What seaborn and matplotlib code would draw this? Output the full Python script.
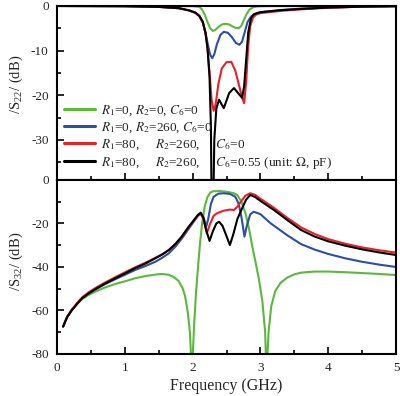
import matplotlib
matplotlib.use('Agg')
import matplotlib.pyplot as plt
from matplotlib import font_manager
from matplotlib.ticker import MultipleLocator
import pandas as pd
import seaborn as sns

sns.set_style("ticks")
# Times-like serif; fall back to matplotlib's bundled STIX if Liberation is missing
installed = {f.name for f in font_manager.fontManager.ttflist}
serif = 'Liberation Serif' if 'Liberation Serif' in installed else 'STIXGeneral'
plt.rcParams['font.family'] = [serif, 'DejaVu Serif']
plt.rcParams['mathtext.fontset'] = 'stix'
plt.rcParams['axes.unicode_minus'] = False

# ---- |S22| (top panel) ----
f22_green = [0.0, 1.0, 2.0, 2.10, 2.14, 2.18, 2.22, 2.26, 2.30, 2.34, 2.39, 2.44, 2.48, 2.53,
             2.58, 2.63, 2.68, 2.72, 2.76, 2.80, 2.84, 2.89, 2.95, 3.1, 5.0]
s22_green = [0, 0, -0.05, -0.2, -0.8, -2.0, -3.6, -5.0, -5.6, -5.3, -4.6, -4.1, -4.0, -4.1,
             -4.5, -4.9, -5.0, -4.4, -3.0, -1.7, -0.8, -0.3, -0.1, -0.03, 0]

f22_blue = [0.0, 1.0, 1.5, 1.8, 1.95, 2.04, 2.10, 2.15, 2.19, 2.23, 2.26, 2.29, 2.32, 2.36,
            2.41, 2.46, 2.52, 2.58, 2.64, 2.69, 2.73, 2.77, 2.81, 2.86, 2.92, 3.0, 3.3, 3.6,
            4.0, 4.5, 5.0]
s22_blue = [0, -0.05, -0.2, -0.5, -1.0, -1.5, -2.3, -3.8, -6.0, -9.0, -11.0, -11.7, -10.8, -8.5,
            -6.5, -5.8, -6.0, -7.0, -8.3, -8.7, -8.0, -5.8, -3.6, -2.4, -1.8, -1.4, -0.9, -0.6,
            -0.35, -0.15, -0.05]

f22_red = [0.0, 1.0, 1.5, 1.8, 1.95, 2.04, 2.10, 2.15, 2.19, 2.22, 2.25, 2.28, 2.31, 2.34,
           2.38, 2.43, 2.50, 2.57, 2.63, 2.68, 2.73, 2.76, 2.79, 2.82, 2.85, 2.89, 2.94, 3.0,
           3.3, 3.6, 4.0, 4.5, 5.0]
s22_red = [0, -0.05, -0.2, -0.5, -1.0, -1.5, -2.3, -3.6, -6.0, -9.5, -15, -21, -23.5, -22,
           -17.5, -14, -12.6, -12.5, -14.5, -17.5, -20.5, -21.8, -17, -9, -4.5, -2.6, -1.9, -1.6,
           -1.1, -0.75, -0.4, -0.15, -0.05]

f22_black = [0.0, 1.0, 1.5, 1.8, 1.95, 2.04, 2.10, 2.15, 2.19, 2.22, 2.25, 2.27, 2.29, 2.32,
             2.35, 2.39, 2.46, 2.54, 2.61, 2.67, 2.73, 2.76, 2.79, 2.82, 2.86, 2.90, 2.95, 3.0,
             3.3, 3.6, 4.0, 4.5, 5.0]
s22_black = [0, -0.05, -0.2, -0.5, -1.0, -1.5, -2.2, -3.5, -6.0, -9.5, -16, -27, -60, -30,
             -23, -21, -22.9, -19.5, -18.4, -19.5, -20.6, -18, -12, -6, -2.8, -1.9, -1.6, -1.4,
             -0.95, -0.65, -0.35, -0.15, -0.05]

# ---- |S32| (bottom panel) ----
f32_green = [0.09, 0.15, 0.22, 0.30, 0.37, 0.46, 0.56, 0.70, 0.86, 1.0, 1.15, 1.30, 1.45, 1.55,
             1.65, 1.72, 1.79, 1.85, 1.89, 1.93, 1.96, 1.99, 2.02, 2.05, 2.08, 2.11, 2.14, 2.18,
             2.22, 2.26, 2.30, 2.40, 2.50, 2.60, 2.66, 2.72, 2.78, 2.83, 2.88, 2.93, 2.98, 3.03,
             3.07, 3.09, 3.12, 3.16, 3.22, 3.30, 3.40, 3.50, 3.60, 3.80, 4.0, 4.25, 4.5, 4.75, 5.0]
s32_green = [-67.4, -63, -59.8, -56.9, -54.8, -53, -51.4, -49.5, -47.8, -46.6, -45.2, -44.2, -43.5,
             -43.2, -43.6, -44.6, -46.3, -49.5, -53.5, -61, -70, -90, -68, -52, -40, -29, -20,
             -12, -7.8, -5.8, -5.2, -5.1, -5.4, -6.0, -6.9, -10, -15.3, -22, -30.5, -38, -46, -56,
             -70, -90, -70, -58, -51, -47.2, -44.8, -43.4, -42.6, -42.1, -42.1, -42.4, -42.8,
             -43.2, -43.7]

f32_blue = [0.09, 0.15, 0.22, 0.30, 0.37, 0.46, 0.56, 0.70, 0.86, 1.0, 1.15, 1.30, 1.45, 1.55,
            1.65, 1.75, 1.84, 1.93, 2.02, 2.08, 2.12, 2.16, 2.20, 2.23, 2.27, 2.31, 2.38, 2.46,
            2.55, 2.63, 2.68, 2.72, 2.765, 2.80, 2.85, 2.90, 3.0, 3.15, 3.4, 3.6, 3.8, 4.0, 4.25,
            4.5, 4.75, 5.0]
s32_blue = [-67.4, -63, -59.8, -56.8, -54.4, -52.3, -50.4, -48, -45.6, -43.6, -41.4, -39.6, -37.6,
            -35.8, -33.7, -30.5, -27, -23, -19, -16.5, -15.5, -17, -21.5, -18, -11, -7.7, -6.3,
            -6.1, -6.4, -7.7, -11, -17, -26, -21, -15.8, -14.6, -15.7, -19.9, -25.5, -29.5, -32,
            -34, -36, -37.6, -38.9, -40]

f32_red = [0.09, 0.15, 0.22, 0.30, 0.37, 0.46, 0.56, 0.70, 0.86, 1.0, 1.15, 1.30, 1.45, 1.55,
           1.65, 1.75, 1.84, 1.93, 2.02, 2.08, 2.12, 2.16, 2.21, 2.26, 2.31, 2.36, 2.45, 2.55,
           2.61, 2.66, 2.71, 2.78, 2.85, 2.92, 3.0, 3.2, 3.4, 3.6, 3.8, 4.0, 4.25, 4.5, 4.75, 5.0]
s32_red = [-67.4, -62.8, -59.5, -56.4, -54.0, -51.8, -49.8, -47.3, -44.7, -42.5, -40.2, -38.1,
           -35.8, -34.2, -32.2, -29.4, -26.2, -22.2, -18.6, -16.2, -15.5, -18, -24.5, -20, -16.5,
           -15.3, -14.2, -13.6, -13.8, -12.3, -10, -7.2, -6.1, -6.8, -8.6, -12.8, -17.5, -21.8,
           -24.8, -27.2, -29.3, -31, -32.3, -33.4]

f32_black = [0.09, 0.15, 0.22, 0.30, 0.37, 0.46, 0.56, 0.70, 0.86, 1.0, 1.15, 1.30, 1.45, 1.55,
             1.65, 1.75, 1.84, 1.93, 2.02, 2.08, 2.12, 2.16, 2.20, 2.25, 2.30, 2.35, 2.39, 2.44,
             2.49, 2.55, 2.60, 2.66, 2.73, 2.79, 2.85, 2.92, 3.0, 3.2, 3.4, 3.6, 3.8, 4.0, 4.25,
             4.5, 4.75, 5.0]
s32_black = [-67.4, -63, -59.8, -56.8, -54.4, -52.3, -50.3, -47.8, -45.2, -43, -40.6, -38.5, -36,
             -34.3, -32.2, -29.3, -26, -22, -18.4, -16, -15, -17.5, -23, -28, -23.5, -20, -19.2,
             -21, -25, -29.9, -25, -18, -13, -9, -6.9, -7.8, -9.6, -13.8, -18.5, -23, -26, -28.2,
             -30.2, -31.9, -33.3, -34.5]

cases = [
    r'$R_1$=0, $R_2$=0, $C_6$=0',
    r'$R_1$=0, $R_2$=260, $C_6$=0',
    r'$R_1$=80,     $R_2$=260,     $C_6$=0',
    r'$R_1$=80,     $R_2$=260,     $C_6$=0.55 (unit: $\Omega$, pF)',
]
colors = ['#5cb83c', '#2b4ea6', '#e8202a', '#000000']


def long_frame(freqs, values):
    parts = []
    for name, f, v in zip(cases, freqs, values):
        parts.append(pd.DataFrame({'f': f, 'db': v, 'case': name}))
    return pd.concat(parts, ignore_index=True)


df22 = long_frame([f22_green, f22_blue, f22_red, f22_black],
                  [s22_green, s22_blue, s22_red, s22_black])
df32 = long_frame([f32_green, f32_blue, f32_red, f32_black],
                  [s32_green, s32_blue, s32_red, s32_black])

fig = plt.figure(figsize=(4, 3.96), dpi=100)
ax1 = fig.add_axes([0.1425, 0.5455, 0.8475, 0.4394])
ax2 = fig.add_axes([0.1425, 0.1061, 0.8475, 0.4394])

for ax, df in [(ax1, df22), (ax2, df32)]:
    sns.lineplot(data=df, x='f', y='db', hue='case', hue_order=cases, palette=colors,
                 sort=False, estimator=None, linewidth=1.5, ax=ax, legend=(ax is ax1))
    ax.set_xlim(0, 5)
    ax.xaxis.set_major_locator(MultipleLocator(1))
    ax.xaxis.set_minor_locator(MultipleLocator(0.5))
    ax.tick_params(which='both', direction='in', top=False, right=False,
                   width=1.4, labelsize=9.5, pad=6)
    ax.tick_params(which='major', length=5)
    ax.tick_params(which='minor', length=3)
    for sp in ax.spines.values():
        sp.set_linewidth(1.5)
        sp.set_color('black')
    ax.set_xlabel('')

ax1.set_ylim(-39, 0)
ax1.yaxis.set_major_locator(MultipleLocator(10))
ax1.yaxis.set_minor_locator(MultipleLocator(5))
ax1.tick_params(labelbottom=False)
ax1.set_ylabel(r'/S$_{\mathregular{22}}$/ (dB)', fontsize=10.5)
ax1.yaxis.set_label_coords(-0.095, 0.55)

ax2.set_ylim(-80, 0)
ax2.yaxis.set_major_locator(MultipleLocator(20))
ax2.yaxis.set_minor_locator(MultipleLocator(10))
ax2.set_ylabel(r'/S$_{\mathregular{32}}$/ (dB)', fontsize=10.5)
ax2.yaxis.set_label_coords(-0.095, 0.53)
ax2.set_xlabel('Frequency (GHz)', fontsize=11.5, labelpad=3)

handles, labels = ax1.get_legend_handles_labels()
for h in handles:
    h.set_linewidth(2.2)
ax1.legend(handles, labels, loc='upper left', bbox_to_anchor=(0.02, 0.44), frameon=False,
           fontsize=9.5, handlelength=2.4, handletextpad=0.4, labelspacing=0.2,
           borderpad=0, borderaxespad=0)

fig.savefig('out.png', dpi=100)
